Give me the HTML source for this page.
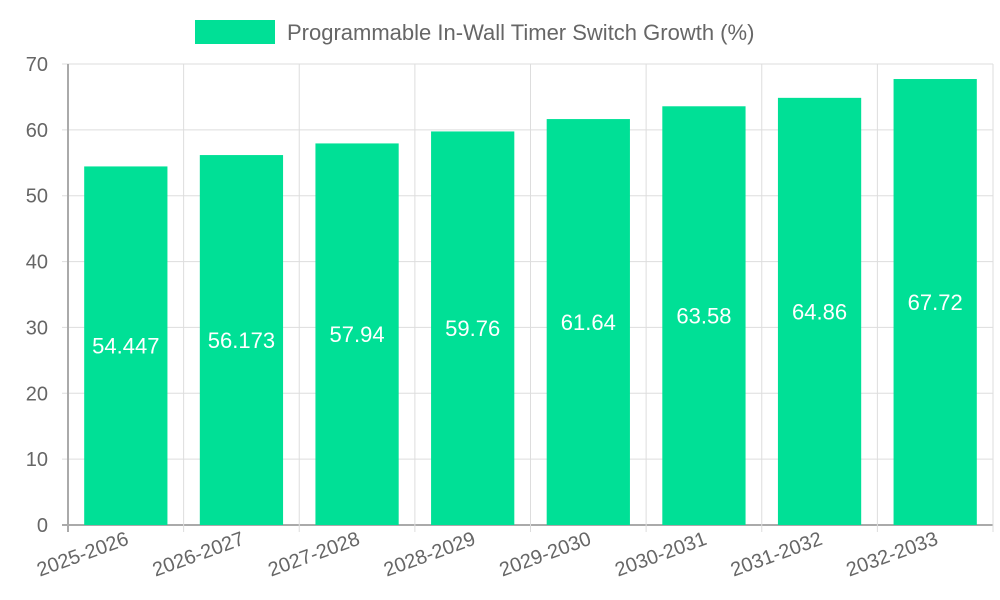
<!DOCTYPE html>
<html><head><meta charset="utf-8"><style>body{margin:0;background:#fff}svg{display:block;font-family:"Liberation Sans",sans-serif}</style></head>
<body>
<svg id="c" width="1000" height="600"></svg>
<script>
const categories=["2025-2026","2026-2027","2027-2028","2028-2029","2029-2030","2030-2031","2031-2032","2032-2033"];
const values=[54.447,56.173,57.94,59.76,61.64,63.58,64.86,67.72];
const valueLabels=["54.447","56.173","57.94","59.76","61.64","63.58","64.86","67.72"];
const yTicks=[0,10,20,30,40,50,60,70];
const NS="http://www.w3.org/2000/svg",svg=document.getElementById('c');
const L=68,R=993,T=64,B=525,yMax=70;
const y=v=>B-(v/yMax)*(B-T);
const bw=(R-L)/categories.length;
const x=i=>L+i*bw;
function el(t,a,p){const e=document.createElementNS(NS,t);for(const k in a)e.setAttribute(k,a[k]);(p||svg).appendChild(e);return e;}
// legend
const lg=el('g',{});


el('rect',{x:195,y:20,width:80,height:24,fill:'#00e096'},lg);
const lt=el('text',{x:287,y:40,'font-size':22,fill:'#666'},lg);lt.textContent="Programmable In-Wall Timer Switch Growth (%)";
// grid
yTicks.forEach(t=>{
 const g=el('line',{x1:62,x2:R,y1:y(t),y2:y(t),stroke:t===0?'#aaa':'#ddd','stroke-width':t===0?2:1});
 
 
 const tx=el('text',{x:48,y:y(t)+7,'font-size':20,fill:'#666','text-anchor':'end'});tx.textContent=t;
 
 
});
for(let i=0;i<=categories.length;i++){
 const g=el('line',{x1:x(i),x2:x(i),y1:T,y2:532,stroke:i===0?'#aaa':'#ddd','stroke-width':i===0?2:1});
 
 
}
categories.forEach((c,i)=>{
 const cx=x(i)+bw/2,w=bw*0.72;
 const r=el('rect',{x:cx-w/2,y:y(values[i]),width:w,height:B-y(values[i]),fill:'#00e096'});
 
 
 const v=el('text',{x:cx,y:(y(values[i])+B)/2+8,'font-size':22,fill:'#fff','text-anchor':'middle'});v.textContent=valueLabels[i];
 
 
 const lx=cx+4,ly=544;
 const t=el('text',{x:lx,y:ly,'font-size':20,fill:'#666','text-anchor':'end',transform:`rotate(-20 ${lx} ${ly})`});t.textContent=c;
 
 
});
</script>
</body></html>
